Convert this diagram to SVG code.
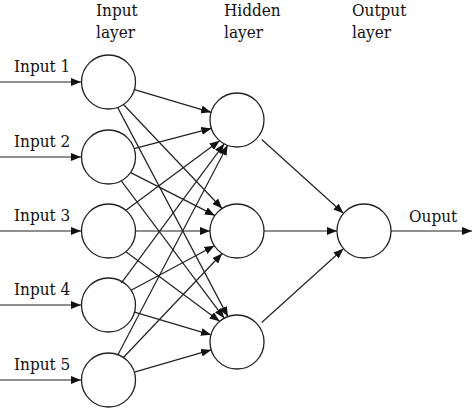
<svg xmlns="http://www.w3.org/2000/svg" width="474" height="408" viewBox="0 0 474 408">
<style>
text{font-family:"DejaVu Serif Condensed","DejaVu Serif","Liberation Serif",serif;font-size:17px;fill:#111}
circle{fill:#fff;stroke:#222;stroke-width:1.3}
.e line{stroke:#222;stroke-width:1.2;marker-end:url(#a)}
</style>
<defs>
<marker id="a" viewBox="0 0 10 8" refX="10" refY="4" markerWidth="10" markerHeight="8" markerUnits="userSpaceOnUse" orient="auto">
<path d="M0,0 L10,4 L0,8 z" fill="#111"/>
</marker>
</defs>
<g id="headers">
<text x="96" y="16">Input</text><text x="96" y="38">layer</text>
<text x="224" y="16">Hidden</text><text x="224" y="38">layer</text>
<text x="352" y="16">Output</text><text x="352" y="38">layer</text>
</g>
<g class="e" id="connectors">
<line x1="0" y1="82" x2="81" y2="82"/>
<line x1="0" y1="157" x2="81" y2="157"/>
<line x1="0" y1="231" x2="81" y2="231"/>
<line x1="0" y1="305" x2="81" y2="305"/>
<line x1="0" y1="380" x2="81" y2="380"/>
<line x1="391" y1="231" x2="472" y2="231"/>
<line x1="261.7" y1="139.5" x2="343.4" y2="213.3"/>
<line x1="264" y1="231" x2="337" y2="231"/>
<line x1="261.7" y1="322.5" x2="343.4" y2="248.7"/>
</g>
<g id="nodes">
<g id="in1"><circle cx="108.5" cy="82" r="27"/><text x="14" y="72">Input 1</text></g>
<g id="in2"><circle cx="108.5" cy="157" r="27"/><text x="14" y="147">Input 2</text></g>
<g id="in3"><circle cx="108.5" cy="231" r="27"/><text x="14" y="221">Input 3</text></g>
<g id="in4"><circle cx="108.5" cy="305" r="27"/><text x="14" y="295">Input 4</text></g>
<g id="in5"><circle cx="108.5" cy="380" r="27"/><text x="14" y="370">Input 5</text></g>
<g id="h1"><circle cx="237" cy="120" r="27"/></g>
<g id="h2"><circle cx="237" cy="231" r="27"/></g>
<g id="h3"><circle cx="237" cy="342" r="27"/></g>
<g id="out"><circle cx="364" cy="231" r="27"/><text x="409" y="222">Ouput</text></g>
</g>
<g class="e" id="connectors2">
<line x1="134.4" y1="89.7" x2="211.1" y2="112.3"/>
<line x1="123.4" y1="104.5" x2="222.1" y2="208.5"/>
<line x1="117.6" y1="107.4" x2="227.9" y2="316.6"/>
<line x1="134.1" y1="148.6" x2="211.4" y2="128.4"/>
<line x1="130.7" y1="172.6" x2="214.8" y2="215.4"/>
<line x1="121.3" y1="180.8" x2="224.2" y2="318.2"/>
<line x1="125.9" y1="210.3" x2="219.6" y2="140.7"/>
<line x1="135.5" y1="231" x2="210" y2="231"/>
<line x1="125.9" y1="251.7" x2="219.6" y2="321.3"/>
<line x1="121.3" y1="283.2" x2="224.2" y2="143.8"/>
<line x1="131.1" y1="290.2" x2="214.4" y2="245.8"/>
<line x1="134.5" y1="312.2" x2="211" y2="334.8"/>
<line x1="117.9" y1="354.7" x2="227.6" y2="145.3"/>
<line x1="123.4" y1="357.5" x2="222.1" y2="253.5"/>
<line x1="134.4" y1="372.1" x2="211.1" y2="349.9"/>
</g>
</svg>
